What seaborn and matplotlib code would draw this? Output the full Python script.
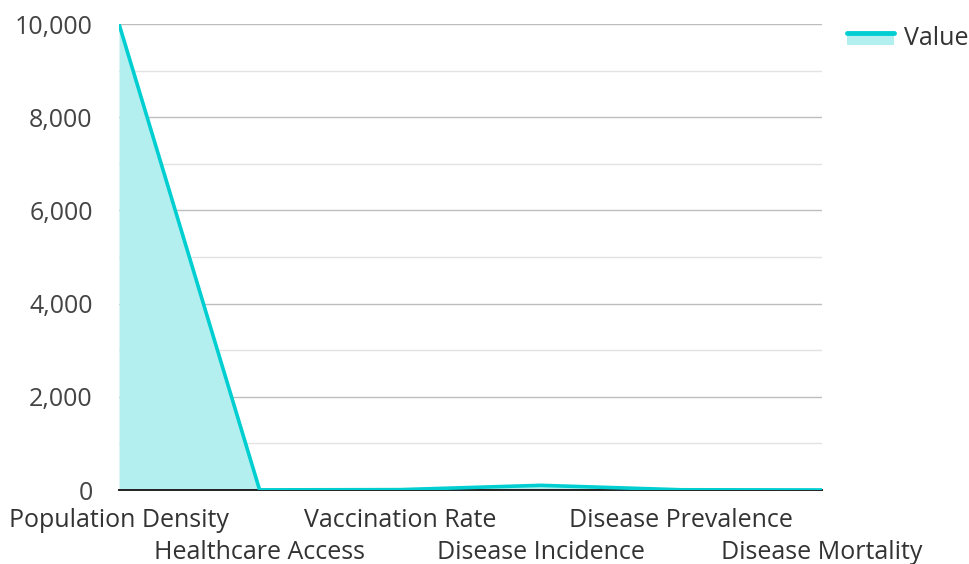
import matplotlib
matplotlib.use("Agg")
import matplotlib.pyplot as plt
import seaborn as sns
import pandas as pd
from matplotlib.patches import Rectangle
from matplotlib.lines import Line2D
from matplotlib.legend_handler import HandlerBase
from matplotlib.ticker import MultipleLocator, FuncFormatter

categories = ["Population Density", "Healthcare Access", "Vaccination Rate",
              "Disease Incidence", "Disease Prevalence", "Disease Mortality"]
values = [10000, 2.5, 8, 100, 5, 1]

sns.set_style("white")
plt.rcParams["font.family"] = ["Open Sans", "DejaVu Sans"]

df = pd.DataFrame({"x": range(len(categories)), "value": values})

line_col = "#00CED1"
fill_col = "#B2EFEE"


# legend key: filled area with the line on its top edge
class AreaLineHandler(HandlerBase):
    def create_artists(self, legend, orig_handle, xdescent, ydescent,
                       width, height, fontsize, trans):
        top = height * 0.7
        rect = Rectangle((-xdescent, -ydescent), width, top, facecolor=fill_col,
                         edgecolor="none", transform=trans)
        ln = Line2D([-xdescent, -xdescent + width], [top - ydescent] * 2,
                    color=line_col, linewidth=3.5, transform=trans)
        return [rect, ln]


fig = plt.figure(figsize=(9.7, 5.64), dpi=100)
ax = fig.add_axes([0.1227, 0.1312, 0.7247, 0.8262])

ax.fill_between(df["x"], df["value"], 0, color=fill_col, linewidth=0, zorder=1)
sns.lineplot(data=df, x="x", y="value", color=line_col, linewidth=2.6, ax=ax, zorder=3)

ax.set_xlim(0, len(categories) - 1)
ax.set_ylim(0, 10000)
ax.yaxis.set_major_locator(MultipleLocator(2000))
ax.yaxis.set_minor_locator(MultipleLocator(1000))
ax.yaxis.set_major_formatter(FuncFormatter(lambda v, p: f"{int(v):,}"))
ax.grid(axis="y", which="major", color="#bdbdbd", linewidth=1.0, zorder=0)
ax.grid(axis="y", which="minor", color="#e3e3e3", linewidth=1.0, zorder=0)
ax.set_axisbelow(True)

ax.set_xticks(range(len(categories)))
ax.set_xticklabels(categories)
ax.tick_params(axis="x", length=0, labelsize=18, labelcolor="#333333")
ax.tick_params(axis="y", length=0, pad=19, labelsize=18, labelcolor="#444444")
for i, t in enumerate(ax.xaxis.get_major_ticks()):
    t.set_pad(13 if i % 2 == 0 else 36)
ax.set_xlabel("")
ax.set_ylabel("")

for s in ["top", "right", "left"]:
    ax.spines[s].set_visible(False)
ax.spines["bottom"].set_color("#222222")
ax.spines["bottom"].set_linewidth(1.4)
ax.spines["bottom"].set_zorder(2)

fig.legend([object()], ["Value"], loc="upper left",
           bbox_to_anchor=(847 / 970, 1 - 26 / 564), borderaxespad=0, borderpad=0,
           frameon=False, fontsize=18, handlelength=1.9, handletextpad=0.4,
           handler_map={object: AreaLineHandler()}, labelcolor="#333333")

fig.savefig("out.png", dpi=100)
